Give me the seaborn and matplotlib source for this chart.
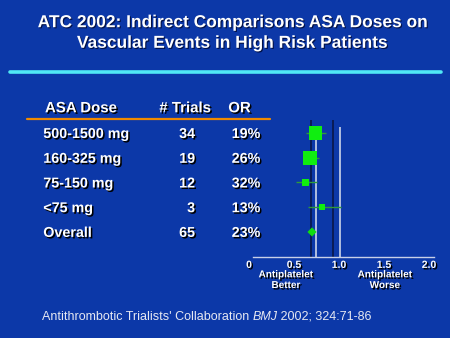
import matplotlib
matplotlib.use("Agg")
import matplotlib.pyplot as plt
import matplotlib.patheffects as pe
from matplotlib.lines import Line2D
import seaborn as sns
import pandas as pd

# ---- data ----
doses = ["500-1500 mg", "160-325 mg", "75-150 mg", "<75 mg", "Overall"]
trials = [34, 19, 12, 3, 65]
or_labels = ["19%", "26%", "32%", "13%", "23%"]
odds_ratio = [0.74, 0.68, 0.63, 0.81]
ci_low = [0.63, 0.60, 0.52, 0.66]
ci_high = [0.86, 0.78, 0.75, 1.02]
overall_or = 0.70
xticks = [0, 0.5, 1.0, 1.5, 2.0]
xtick_labels = ["0", "0.5", "1.0", "1.5", "2.0"]

W, H = 450, 338
BG = "#0c38a8"
sns.set_theme(style="white")
plt.rcParams["font.family"] = ["Liberation Sans", "DejaVu Sans"]

fig = plt.figure(figsize=(W / 100, H / 100), dpi=100, facecolor=BG)

shadow = [pe.withSimplePatchShadow(offset=(1.1, -1.1), shadow_rgbFace="black", alpha=1.0)]
soft_shadow = [pe.withSimplePatchShadow(offset=(0.8, -0.8), shadow_rgbFace="#000830", alpha=0.8)]


def fx(x):
    return x / W


def fy(y):
    return 1 - y / H


def ftext(x, y, s, **kw):
    return fig.text(fx(x), fy(y), s, color="white", **kw)


# title
ftext(233, 22.7, "ATC 2002: Indirect Comparisons ASA Doses on", ha="center", va="center",
      fontsize=12.5, fontweight="bold", path_effects=soft_shadow)
ftext(233, 43.3, "Vascular Events in High Risk Patients", ha="center", va="center",
      fontsize=12.5, fontweight="bold", path_effects=soft_shadow)

# cyan rule
fig.add_artist(Line2D([fx(10), fx(441)], [fy(71.7), fy(71.7)], color="#50e8f5", lw=2.6,
                      transform=fig.transFigure))

# table header
ftext(45, 108.3, "ASA Dose", ha="left", va="center", fontsize=10.8, fontweight="bold", path_effects=shadow)
ftext(159.3, 108.3, "# Trials", ha="left", va="center", fontsize=10.8, fontweight="bold", path_effects=shadow)
ftext(228.3, 108.3, "OR", ha="left", va="center", fontsize=10.8, fontweight="bold", path_effects=shadow)
fig.add_artist(Line2D([fx(26.7), fx(270)], [fy(119), fy(119)], color="#f08a00", lw=1.6,
                      transform=fig.transFigure))

row_y = [134, 158.8, 183.5, 208.2, 232.9]
for i in range(len(doses)):
    ftext(43.3, row_y[i], doses[i], ha="left", va="center", fontsize=10.3, fontweight="bold", path_effects=shadow)
    ftext(195, row_y[i], str(trials[i]), ha="right", va="center", fontsize=10.3, fontweight="bold", path_effects=shadow)
    ftext(231.7, row_y[i], or_labels[i], ha="left", va="center", fontsize=10.3, fontweight="bold", path_effects=shadow)

# forest plot axes
x0, scale = 249.0, 90.0
xmax = 2.06
row_px = 24.75
top_row = -0.55
ax_left = x0
ax_right = x0 + xmax * scale
ax_bottom = 256.7
ax_top = 133 + top_row * row_px
ax = fig.add_axes([fx(ax_left), fy(ax_bottom), (ax_right - ax_left) / W, (ax_bottom - ax_top) / H])
ax.set_facecolor("none")
ax.set_xlim(0, xmax)
ax.set_ylim(5, top_row)

# reference lines
ax.vlines([0.686, 0.937], 5, top_row + 0.02, color="#0a1440", lw=1.1, zorder=1)
ax.vlines([0.744, 1.011], 5, -0.25, color="#dfe4ee", lw=1.1, zorder=1)

rows = list(range(len(odds_ratio)))
ax.hlines(rows, ci_low, ci_high, color="#2f9a3a", lw=1.0, zorder=2)
df = pd.DataFrame({"or": odds_ratio, "row": rows})
sns.scatterplot(data=df, x="or", y="row", marker="s", s=[95, 95, 22, 22], color="#10ee10",
                edgecolor="none", linewidth=0, zorder=3, ax=ax, legend=False)
sns.scatterplot(x=[overall_or], y=[4], marker="D", s=22, color="#10dd10", edgecolor="none",
                linewidth=0, zorder=3, ax=ax, legend=False)

for side in ["top", "right", "left"]:
    ax.spines[side].set_visible(False)
ax.spines["bottom"].set_color("#c8d0e8")
ax.spines["bottom"].set_linewidth(1.0)
ax.spines["bottom"].set_bounds(0.045, xmax)
ax.set_yticks([])
ax.set_xticks(xticks)
ax.set_xticklabels(xtick_labels, fontsize=7.5, fontweight="bold", color="white")
for t in ax.get_xticklabels():
    t.set_path_effects(shadow)
ax.tick_params(axis="x", length=0, pad=2.3)
ax.set_xlabel("")
ax.set_ylabel("")

for xc, word in [(0.41, "Better"), (1.51, "Worse")]:
    px = x0 + xc * scale
    ftext(px, 274.3, "Antiplatelet", ha="center", va="center", fontsize=7.2, fontweight="bold", path_effects=shadow)
    ftext(px, 285, word, ha="center", va="center", fontsize=7.2, fontweight="bold", path_effects=shadow)

# footnote
fc = "#e6e8f2"
t1 = fig.text(fx(41.7), fy(319.5), "Antithrombotic Trialists' Collaboration ", color=fc, fontsize=9,
              ha="left", va="baseline")
t2 = fig.text(0, 0, "BMJ", color=fc, fontsize=9, style="italic", ha="left", va="baseline")
t3 = fig.text(0, 0, " 2002; 324:71-86", color=fc, fontsize=9, ha="left", va="baseline")
fig.canvas.draw()
r = fig.canvas.get_renderer()
bb1 = t1.get_window_extent(r)
t2.set_position((bb1.x1 / fig.bbox.width, fy(319.5)))
fig.canvas.draw()
bb2 = t2.get_window_extent(r)
t3.set_position((bb2.x1 / fig.bbox.width, fy(319.5)))

fig.savefig("out.png", dpi=100, facecolor=BG)
